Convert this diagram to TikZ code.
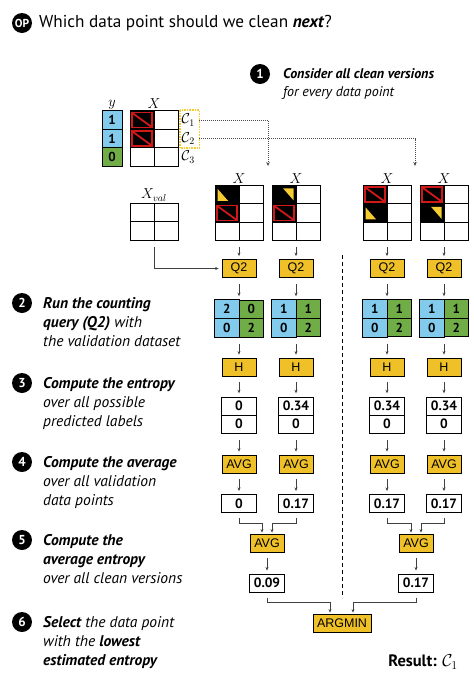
\documentclass[tikz,border=0pt]{standalone}
\usepackage{fontspec}
\setmainfont{PT Sans}
\newfontfamily\boxfont{Liberation Sans}
\usetikzlibrary{matrix,arrows.meta,positioning}

\definecolor{opyellow}{RGB}{240,192,40}
\definecolor{cblue}{RGB}{130,203,236}
\definecolor{cgreen}{RGB}{112,173,71}
\definecolor{cred}{RGB}{210,25,25}
\definecolor{tyellow}{RGB}{245,205,50}

\tikzset{
  cell/.style={draw, line width=1pt, minimum width=24pt, minimum height=18.5pt,
    inner sep=0pt, font=\bfseries\fontsize{13}{13}\selectfont},
  grid/.style={matrix of nodes, nodes in empty cells, ampersand replacement=\&,
    column sep=-1pt, row sep=-1pt, inner sep=0pt, nodes={cell}},
  dirty/.style={fill=black, path picture={
      \draw[cred, line width=1.5pt]
        ([xshift=1.8pt,yshift=-1.8pt]path picture bounding box.north west) rectangle
        ([xshift=-1.8pt,yshift=1.8pt]path picture bounding box.south east);
      \draw[cred, line width=1.8pt]
        ([xshift=2pt,yshift=-2pt]path picture bounding box.north west) --
        ([xshift=-2pt,yshift=2pt]path picture bounding box.south east);}},
  lowfix/.style={fill=black, path picture={
      \fill[tyellow] ([xshift=2.5pt,yshift=-3.5pt]path picture bounding box.north west) --
        ([xshift=2.5pt,yshift=3pt]path picture bounding box.south west) --
        ([xshift=13pt,yshift=3pt]path picture bounding box.south west) -- cycle;}},
  upfix/.style={fill=black, path picture={
      \fill[tyellow] ([xshift=-13pt,yshift=-3pt]path picture bounding box.north east) --
        ([xshift=-2.5pt,yshift=-3pt]path picture bounding box.north east) --
        ([xshift=-2.5pt,yshift=3.5pt]path picture bounding box.south east) -- cycle;}},
  op/.style={draw, fill=opyellow, line width=0.8pt, minimum width=34pt, minimum height=18pt,
    inner sep=1pt, font=\boxfont\fontsize{12.5}{12.5}\selectfont},
  val/.style={draw, line width=1pt, minimum width=35pt, minimum height=18pt,
    inner sep=0pt, font=\bfseries\fontsize{13.5}{13.5}\selectfont},
  num/.style={circle, fill=black, text=white, minimum size=20pt, inner sep=0pt,
    font=\bfseries\fontsize{13}{13}\selectfont},
  note/.style={anchor=north west, align=left, inner sep=0pt,
    font=\itshape\fontsize{15.5}{19}\selectfont},
  head/.style={inner sep=1pt, font=\fontsize{14}{14}\selectfont},
  flow/.style={-{Stealth[length=3.5pt,width=3pt]}, line width=0.6pt, draw=black!75,
    shorten <=6pt, shorten >=3pt},
  merge/.style={-{Stealth[length=3.5pt,width=3pt]}, line width=0.6pt, draw=black!75,
    shorten <=5pt, shorten >=1pt},
  pick/.style={-{Stealth[length=4pt,width=3.5pt]}, line width=1pt, draw=black!70,
    densely dotted},
}

\begin{document}
\begin{tikzpicture}[x=1pt,y=-1pt]
\useasboundingbox (0,0) rectangle (474,689);

% question and step texts
\node[num, font=\bfseries\fontsize{11.5}{11.5}\selectfont] (s0) at (22,23) {OP};
\node[anchor=west, inner sep=0pt, font=\fontsize{17.2}{19}\selectfont] (title) at (39,23)
  {Which data point should we clean \textbf{\textit{next}}?};
\node[num] (s1) at (260,74) {1};
\node[note, font=\itshape\fontsize{14}{18}\selectfont] (t1) at (283,68.5)
  {\textbf{Consider all clean versions}\\for every data point};
\node[num] (s2) at (22,303) {2};
\node[note] (t2) at (43,297) {\textbf{Run the counting}\\\textbf{query (Q2)} with\\the validation dataset};
\node[num] (s3) at (22,383) {3};
\node[note] (t3) at (43,377) {\textbf{Compute the entropy}\\over all possible\\predicted labels};
\node[num] (s4) at (22,462) {4};
\node[note] (t4) at (43,456) {\textbf{Compute the average}\\over all validation\\data points};
\node[num] (s5) at (22,540) {5};
\node[note] (t5) at (43,534) {\textbf{Compute the}\\\textbf{average entropy}\\over all clean versions};
\node[num] (s6) at (22,622) {6};
\node[note] (t6) at (43,616) {\textbf{Select} the data point\\with the \textbf{lowest}\\\textbf{estimated entropy}};

% dirty dataset
\matrix (ycol) at (112,138.5) [grid, nodes={minimum width=20pt}] {
  |[fill=cblue]| 1 \\
  |[fill=cblue]| 1 \\
  |[fill=cgreen]| 0 \\
};
\matrix (data) at (154,138.5) [grid] {
  |[dirty]| \& \\
  |[dirty]| \& \\
  \& \\
};
\node[head, above=0pt of ycol] {$y$};
\node[head, above=0pt of data] {$X$};
\draw[tyellow, densely dotted, line width=1.6pt]
  ([xshift=1.5pt]data-1-2.north east) rectangle ([xshift=21pt]data-2-2.south east);
\node[head, right=2pt of data-1-2] (cv1) {$\mathcal{C}_1$};
\node[head, right=2pt of data-2-2] (cv2) {$\mathcal{C}_2$};
\node[head, right=2pt of data-3-2] (cv3) {$\mathcal{C}_3$};

% clean versions
\matrix (c1) at (239,213) [grid] {
  |[lowfix]| \& \\
  |[dirty]| \& \\
  \& \\
};
\matrix (c2) at (296,213) [grid] {
  |[upfix]| \& \\
  |[dirty]| \& \\
  \& \\
};
\matrix (c3) at (387,213) [grid] {
  |[dirty]| \& \\
  |[lowfix]| \& \\
  \& \\
};
\matrix (c4) at (444,213) [grid] {
  |[dirty]| \& \\
  |[upfix]| \& \\
  \& \\
};
\foreach \i in {1,...,4}
  \node[head, above=0pt of c\i] {$X$};

\coordinate (drop1) at (268,166);
\coordinate (drop2) at (415,166);
\draw[pick] ([xshift=3pt]cv1.east) -| (drop1);
\draw[pick] ([xshift=3pt]cv2.east) -| (drop2);

\matrix (xval) at (154,221.5) [grid] {
  \& \\
  \& \\
};
\node[head, above=0pt of xval] {$X_{val}$};

\draw[dashed, line width=1pt, dash pattern=on 4pt off 3pt] (342,255) -- (342,598);

% per clean version
\foreach \i/\x/\ka/\kb/\kc/\kd/\ea/\eb/\r in {
    1/239/2/0/0/2/0/0/0,
    2/296/1/1/0/2/0.34/0/0.17,
    3/387/1/1/0/2/0.34/0/0.17,
    4/444/1/1/0/2/0.34/0/0.17} {
  \node[op] (q\i) at (\x,268.5) {Q2};
  \matrix (k\i) at (\x,318.5) [grid, nodes={minimum width=24.5pt},
      column 1/.style={nodes={fill=cblue}}, column 2/.style={nodes={fill=cgreen}}] {
    \ka \& \kb \\
    \kc \& \kd \\
  };
  \node[op] (h\i) at (\x,367) {H};
  \matrix (e\i) at (\x,415) [grid, nodes={val}] {
    \ea \\
    \eb \\
  };
  \node[op] (a\i) at (\x,464) {AVG};
  \node[val] (r\i) at (\x,503.5) {\r};
  \draw[flow] (c\i) -- (q\i);
  \draw[flow] (q\i) -- (k\i);
  \draw[flow] (k\i) -- (h\i);
  \draw[flow] (h\i) -- (e\i);
  \draw[flow] (e\i) -- (a\i);
  \draw[flow] (a\i) -- (r\i);
}
\draw[flow] (xval) |- (q1);

% average over clean versions
\node[op] (m1) at (267,543) {AVG};
\node[op] (m2) at (416,543) {AVG};
\node[val] (f1) at (267,583) {0.09};
\node[val] (f2) at (416,583) {0.17};
\node[op, minimum width=58pt] (best) at (342,623) {ARGMIN};

\draw[merge] (r1.south) |- ([xshift=-5pt,yshift=10pt]m1.north) -- ([xshift=-5pt]m1.north);
\draw[merge] (r2.south) |- ([xshift=5pt,yshift=10pt]m1.north) -- ([xshift=5pt]m1.north);
\draw[merge] (r3.south) |- ([xshift=-5pt,yshift=10pt]m2.north) -- ([xshift=-5pt]m2.north);
\draw[merge] (r4.south) |- ([xshift=5pt,yshift=10pt]m2.north) -- ([xshift=5pt]m2.north);
\draw[flow] (m1) -- (f1);
\draw[flow] (m2) -- (f2);
\draw[merge] (f1.south) |- ([xshift=-12pt,yshift=11pt]best.north) -- ([xshift=-12pt]best.north);
\draw[merge] (f2.south) |- ([xshift=11pt,yshift=11pt]best.north) -- ([xshift=11pt]best.north);

\node[anchor=east, inner sep=0pt, font=\bfseries\fontsize{16.5}{18}\selectfont] (result) at (458,662)
  {Result: $\mathcal{C}_1$};
\end{tikzpicture}
\end{document}
